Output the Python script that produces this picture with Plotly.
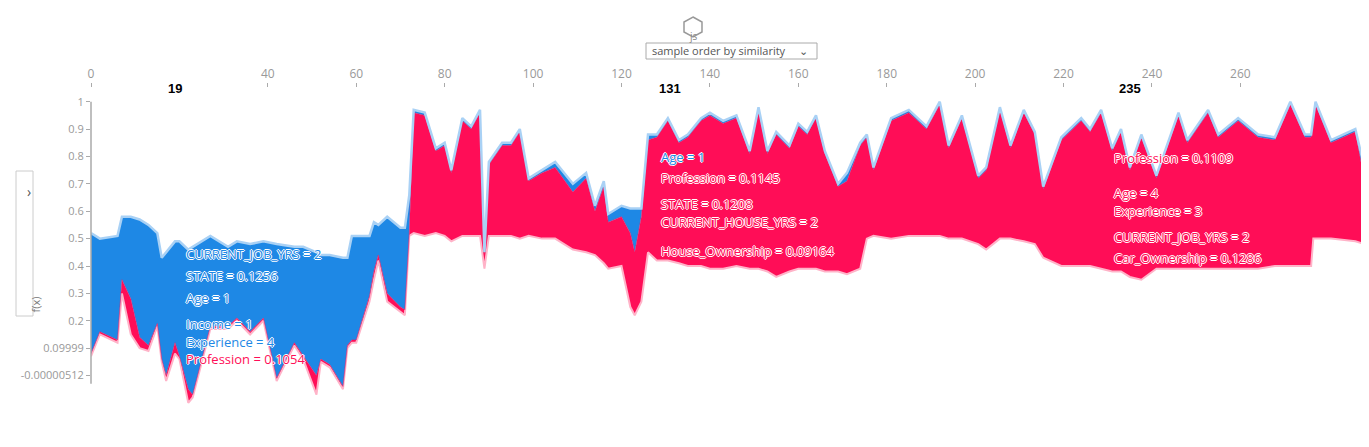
import plotly.graph_objects as go

sample = [0,2,6,7,9,11,13,15,16,17,19,20,22,23,27,31,33,36,39,42,46,48,51,52,54,57,58,59,60,63,64,65,67,70,71,72,
          73,75.5,78,80,81.5,84,86,88,89,90,93,95,97,99,102,105,109,112,114,116,117,120,122,123,124.5,126,128,130.5,133,135,
          138,140,143,146,149,151,153,155,158,160,162,164,166,169,171,174,175.5,177,181,185,189,192,194,197,200.7,202.5,205.6,
          208,211,213.5,215.4,219.5,224,226,228.5,231,233,235,237.6,241,246,248,252.7,255,259.5,264,267.8,271.3,274.6,276,276.5,
          277,280.5,286,288.2,290]
upper = [.52,.50,.51,.58,.58,.57,.55,.52,.43,.45,.49,.49,.46,.47,.51,.47,.49,.48,.49,.48,.47,.47,.45,.44,.44,.43,.43,.51,.51,.51,.56,.55,.58,.54,.54,.66,
         .97,.96,.83,.85,.75,.94,.91,.97,.45,.78,.85,.85,.90,.72,.75,.78,.70,.74,.62,.71,.59,.62,.61,.61,.61,.88,.88,.94,.86,.88,
         .94,.96,.93,.95,.82,.98,.82,.89,.84,.92,.89,.95,.82,.70,.74,.85,.88,.76,.94,.97,.91,1.0,.84,.95,.73,.76,.98,
         .84,.97,.89,.69,.87,.94,.90,.97,.83,.90,.76,.88,.73,.96,.86,.97,.88,.94,.88,.87,1.0,.88,.88,.95,
         1.0,.86,.90,.75,.80]
fx = [.08,.16,.13,.35,.28,.14,.11,.19,.06,.00,.12,.07,-.05,-.07,.18,.18,.21,.16,.21,-.01,.12,.07,.00,.06,.04,-.04,.11,.13,.13,.29,.38,.44,.30,.25,.24,.52,
      .96,.95,.82,.84,.74,.93,.90,.96,.44,.77,.84,.84,.89,.71,.74,.76,.67,.72,.60,.69,.56,.58,.52,.45,.58,.86,.87,.93,.85,.87,
      .93,.95,.92,.94,.81,.97,.81,.88,.83,.91,.88,.94,.81,.69,.71,.84,.87,.75,.93,.96,.90,.99,.83,.94,.72,.75,.97,
      .83,.96,.88,.68,.86,.93,.89,.96,.82,.89,.75,.87,.72,.95,.85,.96,.87,.93,.87,.86,.99,.87,.87,.94,
      .99,.85,.89,.70,.79]
lower = [.07,.15,.12,.30,.15,.10,.09,.18,.05,-.02,.08,.06,-.10,-.08,.17,.17,.20,.15,.20,-.02,.11,.06,-.07,.05,.03,-.05,.10,.12,.12,.27,.35,.42,.27,.23,.22,.51,
         .52,.51,.52,.51,.49,.51,.51,.51,.39,.51,.51,.51,.50,.51,.50,.50,.46,.45,.44,.41,.39,.40,.25,.22,.27,.45,.42,.42,.41,.40,
         .40,.39,.39,.40,.39,.39,.38,.36,.38,.39,.39,.39,.38,.38,.37,.39,.50,.51,.50,.51,.51,.51,.50,.50,.48,.46,.50,
         .50,.49,.48,.43,.40,.40,.40,.39,.38,.38,.36,.35,.39,.39,.39,.39,.39,.39,.39,.40,.40,.40,.40,.50,
         .50,.50,.49,.48,.48]

ytick_vals = [1, .9, .8, .7, .6, .5, .4, .3, .2, .09999, -0.00000512]
ytick_text = ["1", "0.9", "0.8", "0.7", "0.6", "0.5", "0.4", "0.3", "0.2", "0.09999", "-0.00000512"]
xtick_vals = [0, 40, 60, 80, 100, 120, 140, 160, 180, 200, 220, 240, 260]
bold_samples = [19, 131, 235]

labels = [("CURRENT_JOB_YRS = 2", 176, 246, "b"), ("STATE = 0.1256", 176, 268, "b"), ("Age = 1", 176, 290, "b"),
          ("Income = 1", 176, 316, "b"), ("Experience = 4", 176, 334, "b"), ("Profession = 0.1054", 176, 351, "r"),
          ("Age = 1", 651, 149, "b"), ("Profession = 0.1145", 651, 170, "r"), ("STATE = 0.1208", 651, 196, "r"),
          ("CURRENT_HOUSE_YRS = 2", 651, 214, "r"), ("House_Ownership = 0.09164", 651, 243, "r"),
          ("Profession = 0.1109", 1104, 150, "r"), ("Age = 4", 1104, 185, "r"), ("Experience = 3", 1104, 203, "r"),
          ("CURRENT_JOB_YRS = 2", 1104, 229, "r"), ("Car_Ownership = 0.1286", 1104, 250, "r")]

RED, BLUE = "#ff0d57", "#1e88e5"
fig = go.Figure()
fig.add_trace(go.Scatter(x=sample, y=lower, mode="lines", line=dict(color="#ffb3c8", width=2), hoverinfo="skip"))
fig.add_trace(go.Scatter(x=sample, y=fx, mode="lines", line=dict(color=RED, width=0.5), fill="tonexty", fillcolor=RED, hoverinfo="skip"))
fig.add_trace(go.Scatter(x=sample, y=upper, mode="lines", line=dict(color="#a9d1f5", width=2.5), fill="tonexty", fillcolor=BLUE, hoverinfo="skip"))

L, R, T, B = 83, 4, 80, 11
PW, PH = 1369 - L - R, 447 - T - B
def px2paper(px): return (px - L) / PW
def py2paper(py): return (447 - B - py) / PH
def py2val(py): return 1 - (py - 94) / 273

shadow = "1px 0 0 #fff, -1px 0 0 #fff, 0 1px 0 #fff, 0 -1px 0 #fff"
ann = []
for t, x, y, c in labels:
    ann.append(dict(text=t, x=px2paper(x), xref="paper", y=py2val(y), yref="y", xanchor="left", yanchor="middle",
                    showarrow=False, font=dict(size=13, color=BLUE if c == "b" else RED, family="Open Sans", shadow=shadow)))
for s in bold_samples:
    ann.append(dict(text="<b>%d</b>" % s, x=s, xref="x", y=py2paper(71), yref="paper", showarrow=False,
                    font=dict(size=13, color="black", family="Arial")))
ann.append(dict(text="sample order by similarity &nbsp;&nbsp;&nbsp;&nbsp;⌄", x=px2paper(722), xref="paper", y=py2paper(43),
                yref="paper", showarrow=False, font=dict(size=11, color="#555"), xanchor="center", yanchor="middle"))
ann.append(dict(text="f(x)", x=px2paper(17), xref="paper", y=py2paper(297), yref="paper", showarrow=False, textangle=-90,
                font=dict(size=11, color="#777")))
ann.append(dict(text="›", x=px2paper(17), xref="paper", y=py2paper(172), yref="paper", showarrow=False,
                font=dict(size=14, color="#555")))
ann.append(dict(text="js", x=px2paper(685), xref="paper", y=py2paper(19), yref="paper", showarrow=False,
                font=dict(size=10, color="#888")))

hexpts = [(685, 9), (694, 14), (694, 24), (685, 29), (676, 24), (676, 14)]
hexpath = "M " + " L ".join("%f %f" % (px2paper(a), py2paper(b)) for a, b in hexpts) + " Z"
shapes = [
    dict(type="rect", xref="paper", yref="paper", x0=px2paper(638), x1=px2paper(809), y0=py2paper(51), y1=py2paper(35),
         line=dict(color="#aaa", width=1)),
    dict(type="rect", xref="paper", yref="paper", x0=px2paper(8), x1=px2paper(25), y0=py2paper(308), y1=py2paper(163),
         line=dict(color="#ccc", width=1)),
    dict(type="path", xref="paper", yref="paper", path=hexpath, line=dict(color="#999", width=1.5)),
    dict(type="line", xref="paper", yref="y", x0=0, x1=0, y0=-0.03, y1=1.0, line=dict(color="#aaa", width=1.5)),
]

fig.update_layout(
    width=1369, height=447, margin=dict(l=L, r=R, t=T, b=B),
    plot_bgcolor="white", paper_bgcolor="white", showlegend=False,
    font=dict(family="Open Sans", color="#999"),
    annotations=ann, shapes=shapes,
    xaxis=dict(side="top", range=[0, 290], tickvals=xtick_vals, showgrid=False, zeroline=False, automargin=False,
               ticks="outside", ticklen=4, tickcolor="#aaa", tickfont=dict(size=12, color="#999"), showline=False),
    yaxis=dict(range=[-0.25, 1.05], tickvals=ytick_vals, ticktext=ytick_text, showgrid=False, zeroline=False,
               automargin=False, ticks="outside", ticklen=4, tickcolor="#aaa", tickfont=dict(size=11, color="#999"),
               showline=False),
)
fig.write_html("out.html")
